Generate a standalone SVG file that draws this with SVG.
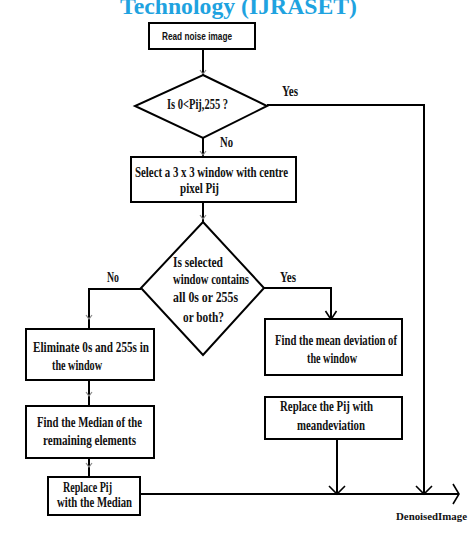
<svg xmlns="http://www.w3.org/2000/svg" width="474" height="534" viewBox="0 0 474 534">
<style>
.box{fill:#fff;stroke:#000;stroke-width:2}
.ln{fill:none;stroke:#000;stroke-width:2}
.ah{fill:none;stroke:#000;stroke-width:1.6}
.sm{fill:none;stroke:#888;stroke-width:1.2}
.t{font-family:"Liberation Serif","Times New Roman",serif;font-size:14px;font-weight:bold;fill:#111}
.s{font-family:"Liberation Sans",Arial,sans-serif;font-size:11px;font-weight:bold;fill:#111}
.title{font-family:"Liberation Serif","Times New Roman",serif;font-size:23px;font-weight:bold;fill:#1fa3e0}
</style>
<rect width="474" height="534" fill="#fff"/>
<text class="title" x="120" y="14" textLength="237" lengthAdjust="spacingAndGlyphs">Technology (IJRASET)</text>
<g id="connectors">
<path class="ln" d="M203 49V75"/>
<path class="ln" d="M203 138V157"/>
<path class="ln" d="M203 202V222"/>
<path class="ln" d="M267 105H424V494"/>
<path class="ln" d="M141 289H89V329"/>
<path class="ln" d="M264 288H331V319"/>
<path class="ln" d="M89 380V406"/>
<path class="ln" d="M89 458V477"/>
<path class="ln" d="M140 494H458"/>
<path class="ln" d="M337 439V494"/>
<path class="ah" d="M325.5 311L331 319.5L336.5 311"/>
<path class="ah" d="M329 486L337 494L345 486"/>
<path class="ah" d="M416 486L424 494L432 486"/>
<path class="ah" d="M453 484L459 494L453 504"/>
<path class="sm" d="M200 70L203 74L206 70"/>
<path class="sm" d="M200 151L203 155L206 151"/>
<path class="sm" d="M200 215L203 219L206 215"/>
<path class="sm" d="M86 315L89 319L92 315"/>
<path class="sm" d="M86 392L89 396L92 392"/>
<path class="sm" d="M86 463L89 467L92 463"/>
<text class="t" x="282" y="96" textLength="16" lengthAdjust="spacingAndGlyphs">Yes</text>
<text class="t" x="220" y="147" textLength="13" lengthAdjust="spacingAndGlyphs">No</text>
<text class="t" x="107" y="282" textLength="12" lengthAdjust="spacingAndGlyphs">No</text>
<text class="t" x="280" y="282" textLength="16" lengthAdjust="spacingAndGlyphs">Yes</text>
</g>
<g id="read">
<rect class="box" x="149" y="23" width="106" height="26"/>
<text class="s" x="162" y="40" textLength="70" lengthAdjust="spacingAndGlyphs">Read noise image</text>
</g>
<g id="dec1">
<polygon class="box" points="203,75 267,106 203,138 135,106"/>
<text class="t" x="167" y="109" textLength="61" lengthAdjust="spacingAndGlyphs">Is 0&lt;Pij,255 ?</text>
</g>
<g id="select">
<rect class="box" x="131" y="157" width="165" height="45"/>
<text class="t" x="135" y="177" textLength="153" lengthAdjust="spacingAndGlyphs">Select a 3 x 3 window with centre</text>
<text class="t" x="180" y="193" textLength="39" lengthAdjust="spacingAndGlyphs">pixel Pij</text>
</g>
<g id="dec2">
<polygon class="box" points="203,222 264,288 203,355 141,288"/>
<text class="t" x="173" y="267" textLength="50" lengthAdjust="spacingAndGlyphs">Is selected</text>
<text class="t" x="173" y="284" textLength="76" lengthAdjust="spacingAndGlyphs">window contains</text>
<text class="t" x="173" y="302" textLength="65" lengthAdjust="spacingAndGlyphs">all 0s or 255s</text>
<text class="t" x="183" y="322" textLength="41" lengthAdjust="spacingAndGlyphs">or both?</text>
</g>
<g id="mean">
<rect class="box" x="265" y="319" width="137" height="56"/>
<text class="t" x="275" y="345" textLength="122" lengthAdjust="spacingAndGlyphs">Find the mean deviation of</text>
<text class="t" x="307" y="363" textLength="50" lengthAdjust="spacingAndGlyphs">the window</text>
</g>
<g id="eliminate">
<rect class="box" x="26" y="329" width="128" height="51"/>
<text class="t" x="33" y="352" textLength="116" lengthAdjust="spacingAndGlyphs">Eliminate 0s and 255s in</text>
<text class="t" x="52" y="370" textLength="50" lengthAdjust="spacingAndGlyphs">the window</text>
</g>
<g id="median">
<rect class="box" x="26" y="406" width="128" height="52"/>
<text class="t" x="37" y="427" textLength="105" lengthAdjust="spacingAndGlyphs">Find the Median of the</text>
<text class="t" x="43" y="445" textLength="93" lengthAdjust="spacingAndGlyphs">remaining elements</text>
</g>
<g id="replaceMedian">
<rect class="box" x="48" y="477" width="92" height="38"/>
<text class="t" x="63" y="492" textLength="49" lengthAdjust="spacingAndGlyphs">Replace Pij</text>
<text class="t" x="57" y="507" textLength="75" lengthAdjust="spacingAndGlyphs">with the Median</text>
</g>
<g id="replaceMean">
<rect class="box" x="265" y="397" width="137" height="42"/>
<text class="t" x="280" y="411" textLength="93" lengthAdjust="spacingAndGlyphs">Replace the Pij with</text>
<text class="t" x="297" y="430" textLength="68" lengthAdjust="spacingAndGlyphs">meandeviation</text>
</g>
<g id="output">
<text class="t" x="396" y="520" style="font-size:11px" textLength="71" lengthAdjust="spacingAndGlyphs">DenoisedImage</text>
</g>
</svg>
